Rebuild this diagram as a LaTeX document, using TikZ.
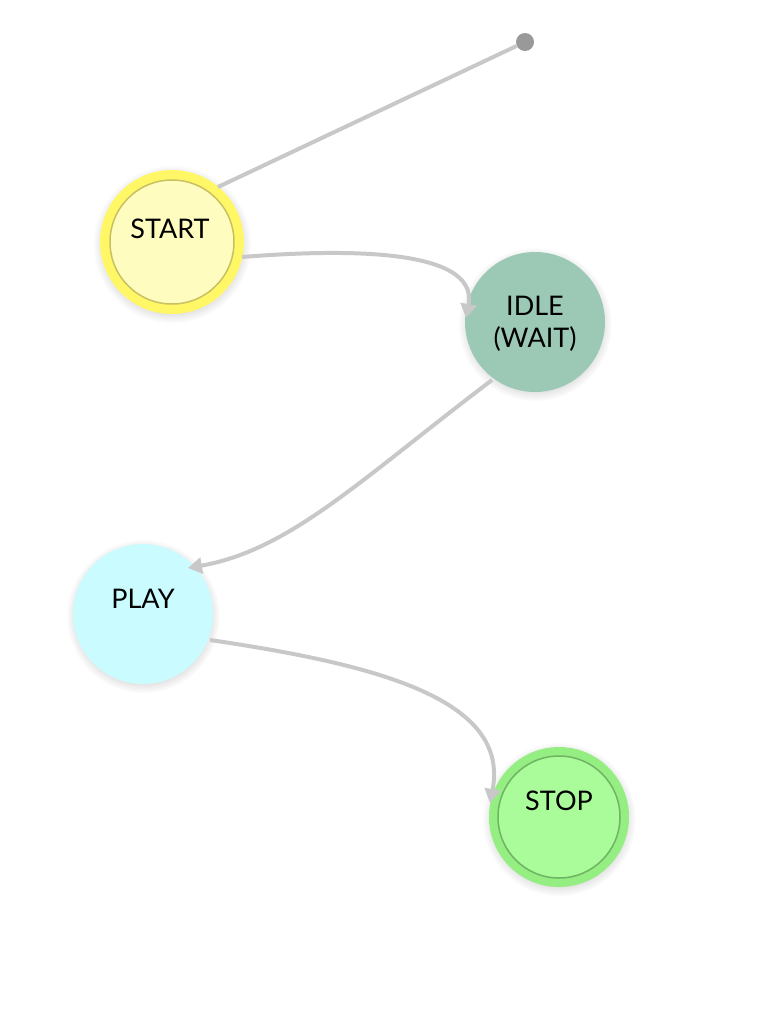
\documentclass[tikz,border=0pt]{standalone}
\usepackage{fontspec}
\setmainfont{Lato}
\usetikzlibrary{arrows.meta,shadows}
\definecolor{edgec}{HTML}{C8C8C8}
\begin{document}
\begin{tikzpicture}[x=1pt,y=-1pt,
  st/.style={circle,minimum size=140pt,inner sep=0pt,font=\fontsize{27}{32}\selectfont,align=center},
  lab/.style={font=\fontsize{27}{32}\selectfont,align=center},
  edge/.style={draw=edgec,line width=4pt,-{Triangle[length=14pt,width=16pt]}}]
\useasboundingbox (0,0) rectangle (756,1026);
% START
\node[st,minimum size=144pt,fill=yellow!60!white,circular drop shadow={shadow xshift=0pt,shadow yshift=-2pt,opacity=0.25}] (start) at (172,242) {};
\node[circle,minimum size=124pt,fill=yellow!25!white,draw=yellow!50!gray,line width=1.5pt] (starti) at (172,242) {};
\node[lab] (startl) at (170,229) {START};
% IDLE
\node[st,fill=green!50!teal!30!white,fill={rgb,255:red,156;green,201;blue,182},circular drop shadow={shadow xshift=0pt,shadow yshift=-2pt,opacity=0.25}] (idle) at (535,322) {};
\node[lab] (idlel) at (535,324) {IDLE\\(WAIT)};
% PLAY
\node[st,fill={rgb,255:red,201;green,251;blue,255},circular drop shadow={shadow xshift=0pt,shadow yshift=-2pt,opacity=0.25}] (play) at (143,614) {};
\node[lab] (playl) at (143,599) {PLAY};
% STOP
\node[st,fill={rgb,255:red,148;green,238;blue,130},circular drop shadow={shadow xshift=0pt,shadow yshift=-2pt,opacity=0.25}] (stop) at (559,817) {};
\node[circle,minimum size=122pt,fill={rgb,255:red,170;green,251;blue,153},draw={rgb,255:red,110;green,180;blue,100},line width=1.5pt] (stopi) at (559,817) {};
\node[lab] (stopl) at (559,801) {STOP};
% initial dot
\node[circle,fill=gray!80,minimum size=18pt,inner sep=0pt] (dot) at (525,42) {};
\draw[edgec,line width=4pt] (dot) -- (218,187);
% edges
\draw[edge] (242,257) .. controls (330,250) and (480,245) .. (466,318);
\draw[edge] (492,380) .. controls (360,480) and (290,550) .. (188,568);
\draw[edge] (210,640) .. controls (380,665) and (510,700) .. (490,803);
\end{tikzpicture}
\end{document}
